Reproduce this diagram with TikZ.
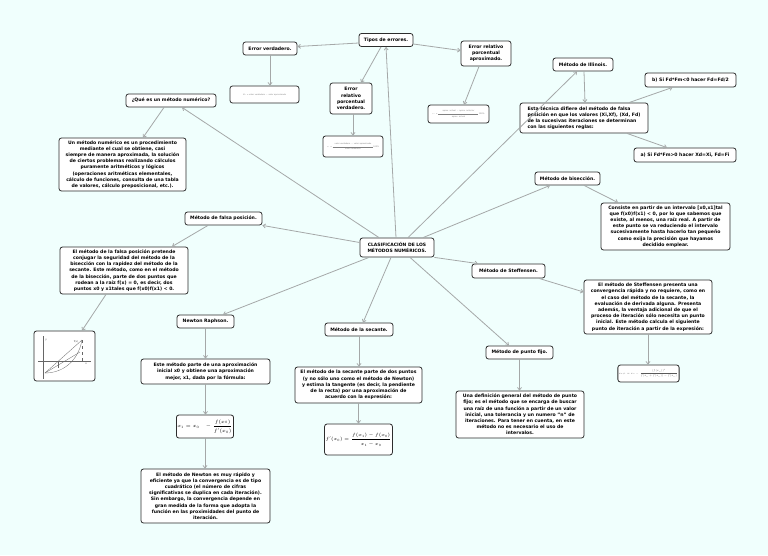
\RequirePackage{fix-cm}
\documentclass[tikz,border=0pt]{standalone}
\usepackage{amsmath}
\usepackage{fontspec}
\setmainfont{DejaVu Sans}
\usetikzlibrary{arrows.meta}
\definecolor{bg}{RGB}{240,255,253}
\definecolor{ln}{RGB}{165,168,168}
\definecolor{bd}{RGB}{45,45,45}
\begin{document}
\begin{tikzpicture}[x=1pt,y=-1pt,
  bx/.style={draw=bd, line width=0.8pt, rounded corners=2.5pt, fill=white, align=center,
    font=\bfseries\fontsize{4.6}{6.2}\selectfont, inner sep=1.5pt},
  fb/.style={draw=bd, line width=0.8pt, rounded corners=2.5pt, fill=white, align=center, inner sep=1pt},
  tinyt/.style={font=\fontsize{2}{2.6}\selectfont, text=gray},
  con/.style={draw=ln, line width=0.8pt, -{Straight Barb[length=2.5pt,width=4pt]}}]
\fill[bg] (0,0) rectangle (768,555);
\useasboundingbox (0,0) rectangle (768,555);

% ---------- nodes ----------
\node[bx, minimum width=74pt, minimum height=19pt, font=\bfseries\fontsize{4.5}{5.2}\selectfont] (central) at (397,247.5) {CLASIFICACIÓN DE LOS\\MÉTODOS NUMÉRICOS.};

\node[bx, minimum width=54pt, minimum height=13pt] (tipos) at (386,40) {Tipos de errores.};
\node[bx, minimum width=54pt, minimum height=13pt] (errv) at (270,48.5) {Error verdadero.};
\node[fb, minimum width=69pt, minimum height=17pt, tinyt] (errvf) at (264.5,94.5) {$E_t$ = valor verdadero $-$ valor aproximado};
\node[bx, minimum width=42pt, minimum height=31pt] (errrv) at (351,98.5) {Error\\relativo\\porcentual\\verdadero.};
\node[fb, minimum width=60pt, minimum height=21pt, tinyt] (errrvf) at (353,146.5) {valor verdadero $-$ valor aproximado\\$\varepsilon_t$ = \rule[0.5pt]{40pt}{0.2pt} 100\%\\valor verdadero};
\node[bx, minimum width=50pt, minimum height=25pt] (erra) at (486,53.5) {Error relativo\\porcentual\\aproximado.};
\node[fb, minimum width=61pt, minimum height=18pt, tinyt] (erraf) at (458.5,114) {aprox. actual $-$ aprox. anterior\\$\varepsilon_a$ = \rule[0.5pt]{40pt}{0.2pt} 100\%\\aprox. actual};

\node[bx, minimum width=60pt, minimum height=13pt] (illinois) at (583,64.5) {Método de Illinois.};
\node[bx, minimum width=91pt, minimum height=14pt] (bregla) at (690.5,80) {b) Si Fd*Fm<0 hacer Fd=Fd/2};
\node[bx, minimum width=128pt, minimum height=30pt, align=left] (tecnica) at (584,118) {Esta técnica difiere del método de falsa\\posición en que los valores (Xi,Xf), (Xd, Fd)\\de la sucesivas iteraciones se determinan\\con las siguientes reglas:};
\node[bx, minimum width=102pt, minimum height=14pt] (aregla) at (685,155) {a) Si Fd*Fm>0 hacer Xd=Xi, Fd=Fi};

\node[bx, minimum width=65pt, minimum height=13pt] (bisec) at (567.5,178.5) {Método de bisección.};
\node[bx, minimum width=129pt, minimum height=47pt] (consiste) at (665.5,226.5) {Consiste en partir de un intervalo [x0,x1]tal\\que f(x0)f(x1) < 0, por lo que sabemos que\\existe, al menos, una raíz real. A partir de\\este punto se va reduciendo el intervalo\\sucesivamente hasta hacerlo tan pequeño\\como exija la precisión que hayamos\\decidido emplear.};

\node[bx, minimum width=73pt, minimum height=14pt] (steff) at (508.5,271) {Método de Steffensen.};
\node[bx, minimum width=128pt, minimum height=54pt] (stefft) at (648,307) {El método de Steffensen presenta una\\convergencia rápida y no requiere, como en\\el caso del método de la secante, la\\evaluación de derivada alguna. Presenta\\además, la ventaja adicional de que el\\proceso de iteración sólo necesita un punto\\inicial. Este método calcula el siguiente\\punto de iteración a partir de la expresión:};
\node[fb, minimum width=61pt, minimum height=17pt, font=\fontsize{2.6}{3}\selectfont, text=gray!70!black] (stefff) at (648.5,373.5) {$x_{n+1}=x_n-\dfrac{(f(x_n))^2}{f(x_n+f(x_n))-f(x_n)}$};

\node[bx, minimum width=67pt, minimum height=13pt] (pfijo) at (519.5,352.5) {Método de punto fijo.};
\node[bx, minimum width=128pt, minimum height=47pt] (pfijot) at (520,414.5) {Una definición general del método de punto\\fijo; es el método que se encarga de buscar\\una raíz de una función a partir de un valor\\inicial, una tolerancia y un numero "n" de\\iteraciones. Para tener en cuenta, en este\\método no es necesario el uso de\\intervalos.};

\node[bx, minimum width=68pt, minimum height=13pt] (secante) at (359,329.5) {Método de la secante.};
\node[bx, minimum width=127pt, minimum height=36pt] (secantet) at (358.5,385) {El método de la secante parte de dos puntos\\(y no sólo uno como el método de Newton)\\y estima la tangente (es decir, la pendiente\\de la recta) por una aproximación de\\acuerdo con la expresión:};
\node[fb, minimum width=61pt, minimum height=31pt, font=\fontsize{4.6}{5.5}\selectfont] (secantef) at (358.5,439.5) {$f'(x_0)=\dfrac{f(x_1)-f(x_0)}{x_1-x_0}$};

\node[bx, minimum width=57pt, minimum height=13pt] (newton) at (205.5,321.5) {Newton Raphson.};
\node[bx, minimum width=129pt, minimum height=25pt] (newtont) at (205.5,371.5) {Este método parte de una aproximación\\inicial x0 y obtiene una aproximación\\mejor, x1, dada por la fórmula:};
\node[fb, minimum width=54pt, minimum height=23pt, font=\fontsize{4.8}{5.5}\selectfont] (newtonf) at (205,426.5) {$x_1=x_0\quad-\dfrac{f(x_0)}{f'(x_0)}$};
\node[bx, minimum width=129pt, minimum height=54pt] (newtont2) at (205.5,496) {El método de Newton es muy rápido y\\eficiente ya que la convergencia es de tipo\\cuadrático (el número de cifras\\significativas se duplica en cada iteración).\\Sin embargo, la convergencia depende en\\gran medida de la forma que adopta la\\función en las proximidades del punto de\\iteración.};

\node[bx, minimum width=77pt, minimum height=13pt] (falsa) at (223.5,218.5) {Método de falsa posición.};
\node[bx, minimum width=128pt, minimum height=47pt] (falsat) at (124,270.5) {El método de la falsa posición pretende\\conjugar la seguridad del método de la\\bisección con la rapidez del método de la\\secante. Este método, como en el método\\de la bisección, parte de dos puntos que\\rodean a la raíz f(x) = 0, es decir, dos\\puntos x0 y x1tales que f(x0)f(x1) < 0.};
\node[fb, minimum width=61pt, minimum height=50pt] (graph) at (64.5,356) {};

\node[bx, minimum width=90pt, minimum height=13pt] (que) at (171,100.5) {¿Qué es un método numérico?};
\node[bx, minimum width=127pt, minimum height=53pt] (quet) at (122.5,164.5) {Un método numérico es un procedimiento\\mediante el cual se obtiene, casi\\siempre de manera aproximada, la solución\\de ciertos problemas realizando cálculos\\puramente aritméticos y lógicos\\(operaciones aritméticas elementales,\\cálculo de funciones, consulta de una tabla\\de valores, cálculo preposicional, etc.).};

% ---------- small plot inside graph box ----------
\begin{scope}[line width=0.3pt, draw=gray!80!black]
\draw (43,336) -- (43,379);
\draw (38,361) -- (91,361);
\draw (45,373) .. controls (62,373) and (78,362) .. (82,340);
\draw (45,373) -- (82,340);
\draw (45,373) -- (80,352);
\draw[dashed] (82,340) -- (82,361);
\draw (58,361) -- (58,368);
\node[font=\fontsize{2.5}{3}\selectfont, text=gray!60!black] (gl1) at (76,342) {f(x)};
\node[font=\fontsize{2.5}{3}\selectfont, text=gray!60!black] (gl2) at (46,340) {y};
\node[font=\fontsize{2.5}{3}\selectfont, text=gray!60!black] (gl3) at (86,364) {x};
\end{scope}

% ---------- connectors ----------
\draw[con] ([xshift=-1pt]central.north) -- (tipos.south);
\draw[con] ([yshift=-3pt]tipos.west) -- ([yshift=2pt]errv.east);
\draw[con] ([xshift=-5pt]tipos.south) -- ([xshift=10pt]errrv.north);
\draw[con] ([yshift=-4pt]tipos.east) -- ([yshift=3pt]erra.west);
\draw[con] (errv.south) -- (errv.south |- errvf.north);
\draw[con] (errrvf.north |- errrv.south) -- (errrvf.north);
\draw[con] ([xshift=-7pt]erra.south) -- ([xshift=5.5pt]erraf.north);

\draw[con] ([xshift=11pt]central.north) -- ([xshift=-6pt]illinois.south);
\draw[con] ([xshift=1pt]illinois.south) -- ([xshift=1pt]tecnica.north);
\draw[con] ([xshift=45pt]tecnica.north) -- ([xshift=-18pt]bregla.south);
\draw[con] ([xshift=43pt]tecnica.south) -- ([xshift=-18pt]aregla.north);

\draw[con] ([xshift=26pt]central.north) -- ([xshift=-17.5pt]bisec.south);
\draw[con] ([xshift=16.5pt]bisec.south) -- ([xshift=-47.5pt]consiste.north);

\draw[con] (central.south east) -- ([xshift=-30.5pt]steff.north);
\draw[con] ([xshift=30.5pt]steff.south) -- ([yshift=15pt]stefft.west);
\draw[con] (stefft.south) -- (stefft.south |- stefff.north);

\draw[con] ([xshift=13pt]central.south) -- ([xshift=-10.5pt]pfijo.north);
\draw[con] (pfijo.south) -- (pfijo.south |- pfijot.north);

\draw[con] ([xshift=-6pt]central.south) -- ([xshift=4pt]secante.north);
\draw[con] (secante.south) -- (secante.south |- secantet.north);
\draw[con] (secantet.south) -- (secantet.south |- secantef.north);

\draw[con] ([xshift=-28pt]central.south) -- ([xshift=17.5pt]newton.north);
\draw[con] (newton.south) -- (newton.south |- newtont.north);
\draw[con] (newtont.south) -- (newtont.south |- newtonf.north);
\draw[con] (newtonf.south) -- (newtonf.south |- newtont2.north);

\draw[con] ([yshift=5pt]central.west) -- (falsa.south east);
\draw[con] ([xshift=-15.5pt]falsa.south) -- ([xshift=48pt]falsat.north);
\draw[con] ([xshift=-18pt]falsat.south) -- ([xshift=17.5pt]graph.north);

\draw[con] ([xshift=-18pt]central.north) -- ([xshift=11pt]que.south);
\draw[con] ([xshift=-7pt]que.south) -- ([xshift=20.5pt]quet.north);
\end{tikzpicture}
\end{document}
